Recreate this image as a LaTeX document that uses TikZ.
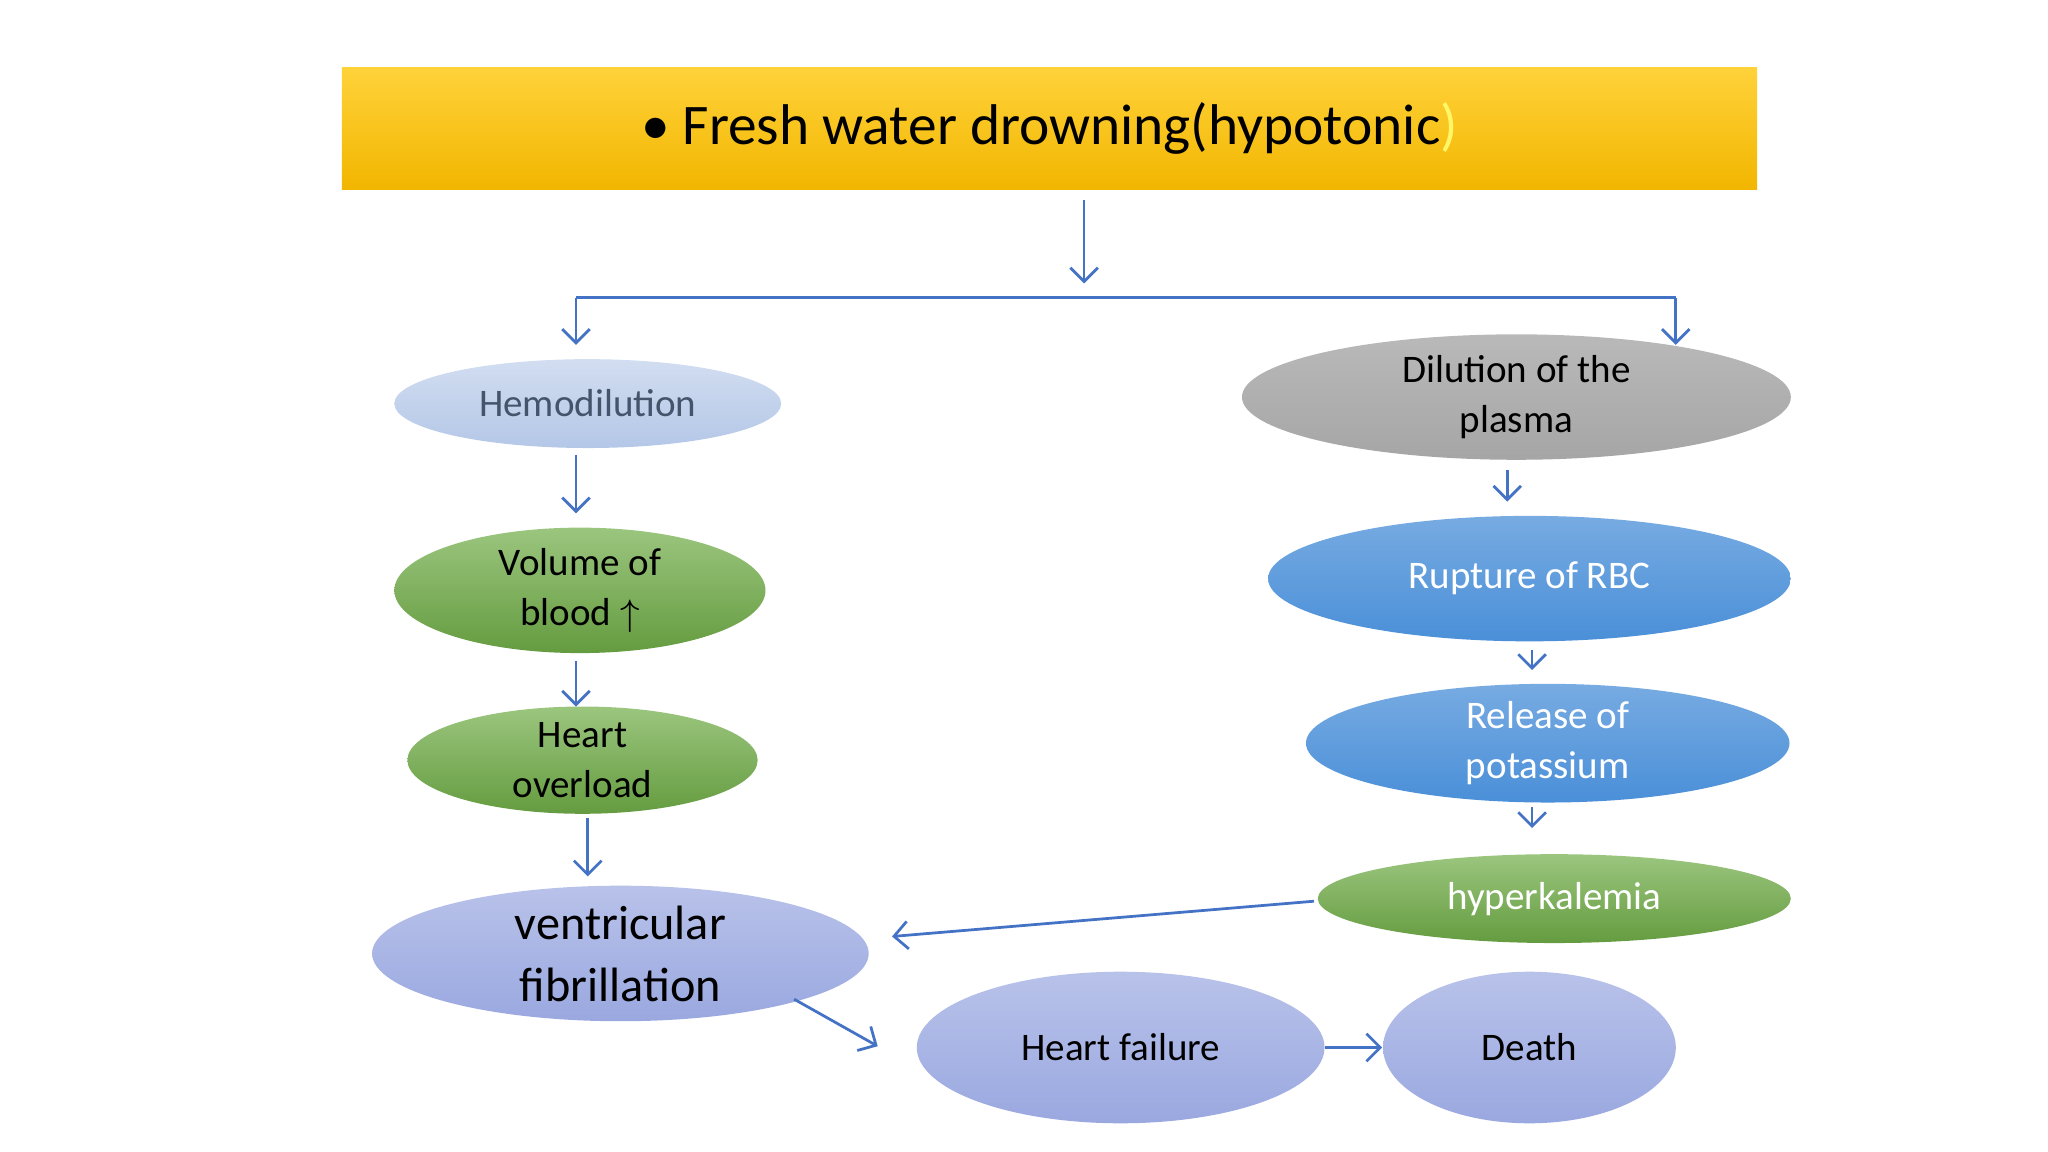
\documentclass[tikz,border=0pt]{standalone}
\usepackage{fontspec}
\setmainfont{Carlito}
\usetikzlibrary{shapes.geometric,arrows.meta}
\definecolor{lineblue}{HTML}{4472C4}
\definecolor{Hblue}{HTML}{B4C7E7}
\definecolor{Htext}{HTML}{44546A}
\definecolor{Hgreen}{HTML}{70AD47}
\definecolor{Hb}{HTML}{4A8FD8}
\definecolor{Hlav}{HTML}{9AA8E0}
\definecolor{Hy1}{HTML}{FFD23A}
\definecolor{Hy2}{HTML}{F2B600}
\tikzset{
 conn/.style={draw=lineblue,line width=0.6pt,-{Straight Barb[length=3pt,width=6pt]}},
 ell/.style={ellipse,inner sep=0pt,align=center,font=\fontsize{8.5}{11}\selectfont},
 ehemo/.style={ell,top color=white!40!Hblue,bottom color=Hblue,text=Htext},
 egreen/.style={ell,top color=Hgreen!70!white,bottom color=Hgreen!90!black,text=black},
 egray/.style={ell,top color=gray!55,bottom color=gray!70,text=black},
 eblue/.style={ell,top color=Hb!75!white,bottom color=Hb,text=white},
 elav/.style={ell,top color=Hlav!70!white,bottom color=Hlav,text=black},
}
\begin{document}
\begin{tikzpicture}[x=0.01cm,y=-0.01cm]
\useasboundingbox (0,0) rectangle (1568,882);
\node[minimum width=10.83cm,minimum height=0.93cm,inner sep=0pt,top color=Hy1,bottom color=Hy2,
 font=\fontsize{12.5}{15}\selectfont] (ban) at (803.5,98.5) {\textbullet\ Fresh water drowning(hypotonic\textcolor{yellow!60}{)}};
\node[ehemo,minimum width=2.96cm,minimum height=0.68cm] (hemo) at (450,309) {Hemodilution};
\node[egreen,minimum width=2.84cm,minimum height=0.96cm] (vol) at (444,452) {Volume of\\blood $\uparrow$};
\node[egreen,minimum width=2.68cm,minimum height=0.78cm] (ho) at (446,582) {Heart\\overload};
\node[elav,minimum width=3.8cm,minimum height=0.96cm,font=\fontsize{10.5}{13.5}\selectfont] (vf) at (475,730) {ventricular\\fibrillation};
\node[egray,minimum width=4.2cm,minimum height=0.96cm] (dil) at (1161,304) {Dilution of the\\plasma};
\node[eblue,minimum width=4.0cm,minimum height=0.96cm] (rup) at (1171,443) {Rupture of RBC};
\node[eblue,minimum width=3.7cm,minimum height=0.84cm] (rel) at (1185,569) {Release of\\potassium};
\node[egreen,minimum width=3.62cm,minimum height=0.68cm,text=white] (hyp) at (1190,688) {hyperkalemia};
\node[elav,minimum width=3.12cm,minimum height=1.16cm] (hf) at (858,802) {Heart failure};
\node[elav,minimum width=2.24cm,minimum height=1.16cm] (death) at (1171,802) {Death};
\coordinate (a0) at (830,153); \coordinate (a1) at (830,217);
\coordinate (L) at (441,228); \coordinate (R) at (1283,228);
\coordinate (L1) at (441,264); \coordinate (R1) at (1283,264);
\draw[conn] (a0) -- (a1);
\draw[lineblue,line width=0.6pt] (L) -- (R);
\draw[conn] (L) -- (L1);
\draw[conn] (R) -- (R1);
\draw[conn] (441,348) -- (441,393);
\draw[conn] (441,506) -- (441,541);
\draw[conn] (450,626) -- (450,671);
\draw[conn] (1154,360) -- (1154,384);
\draw[conn] (1173,498) -- (1173,513);
\draw[conn] (1173,618) -- (1173,634);
\draw[conn] (1006,690) -- (683,717);
\draw[conn] (608,765) -- (672,801);
\draw[conn] (hf.east) -- (death.west);
\end{tikzpicture}
\end{document}
